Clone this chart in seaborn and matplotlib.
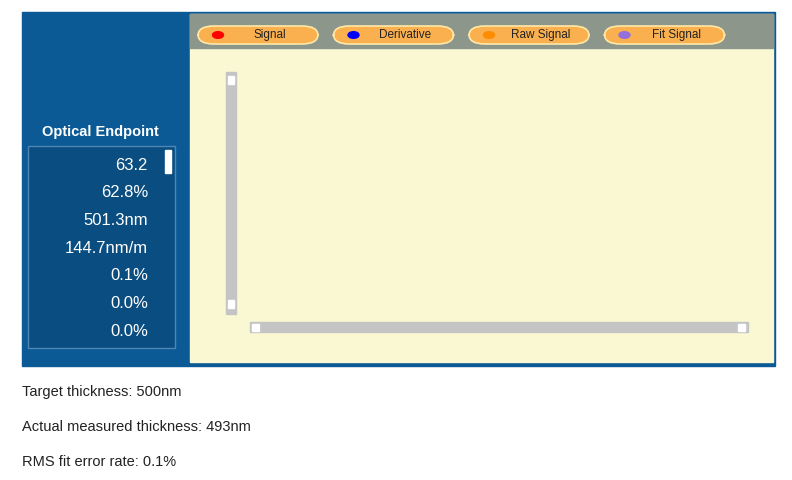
import numpy as np
import pandas as pd
import matplotlib
matplotlib.use('Agg')
import matplotlib.pyplot as plt
import seaborn as sns
from matplotlib.patches import Rectangle, FancyBboxPatch

# readings (time in seconds)
raw_t = [1, 2, 5, 10, 15, 20, 25, 30, 35, 40, 45, 50, 55, 60, 65, 70, 75, 80, 85, 90,
         95, 100, 105, 110, 115, 120, 125, 130, 135, 140, 145, 150, 155, 160, 165, 170,
         175, 180, 185, 190, 195, 200, 205, 209]
raw_v = [55.0, 60.5, 61.0, 61.8, 62.8, 63.2, 63.1, 62.2, 60.8, 59.8, 60.4, 62.0, 63.0, 62.8,
         62.4, 61.5, 60.9, 60.4, 60.0, 60.3, 62.0, 63.4, 63.2, 62.0, 60.6, 59.8, 60.5, 62.2,
         63.4, 63.3, 62.4, 61.5, 60.7, 60.2, 60.3, 61.2, 62.6, 63.6, 63.6, 62.6, 61.0, 60.1,
         61.0, 62.2]
fit_t = [5, 5, 10, 15, 20, 25, 30, 35, 40, 45, 50, 55, 60, 65, 70, 72, 72] + raw_t[16:]
fit_v = [0, 47.0, 49.5, 52.0, 53.0, 51.5, 47.5, 44.6, 46.0, 50.5, 53.0, 52.5, 50.0, 47.5,
         45.8, 45.5, 61.0] + raw_v[16:]
base_t = [5, 207]
base_v = [0, 0]
active_t = [1, 4]
inactive_t = 207
legend_names = ['Signal', 'Derivative', 'Raw Signal', 'Fit Signal']
legend_colors = ['#ff0000', '#0000ff', '#ff8c00', '#9370db']
endpoint_values = ['63.2', '62.8%', '501.3nm', '144.7nm/m', '0.1%', '0.0%', '0.0%']
x_ticks = [0, 50, 100, 150, 200, 250]
x_labels = ['0:00', '0:50', '1:40', '2:30', '3:20', '4:10']
notes = ['Target thickness: 500nm', 'Actual measured thickness: 493nm', 'RMS fit error rate: 0.1%']

W, H = 792, 480
sns.set_style('white')
plt.rcParams['font.family'] = ['Liberation Sans', 'DejaVu Sans']
fig = plt.figure(figsize=(W / 100, H / 100), dpi=100)


def rect(x0, y0, x1, y1, **kw):
    fig.patches.append(Rectangle((x0 / W, 1 - y1 / H), (x1 - x0) / W, (y1 - y0) / H,
                                 transform=fig.transFigure, **kw))


def txt(x, y, s, **kw):
    fig.text(x / W, 1 - y / H, s, **kw)


# outer panel
rect(22, 12, 775, 366, color='#0b5a95', zorder=0)
rect(190, 14, 773, 362, color='#f9f8d2', zorder=0.1)
rect(190, 14, 773, 48, color='#8c968a', zorder=0.2)
txt(100, 132, 'Optical Endpoint', color='white', fontsize=10.5, fontweight='bold', ha='center', va='center')
rect(28, 146, 175, 348, facecolor='#0a4d80', edgecolor='#4f86b5', lw=1, zorder=0.2)
rect(165, 150, 171, 173, color='white', zorder=0.3)
for i, v in enumerate(endpoint_values):
    txt(148, 165 + i * 27.7, v, color='white', fontsize=12, ha='right', va='center')

# legend buttons
for i, (name, c) in enumerate(zip(legend_names, legend_colors)):
    x0 = 198 + i * 135.5
    fig.patches.append(FancyBboxPatch((x0 / W, 1 - 44 / H), 120 / W, 18 / H,
                                      boxstyle='round,pad=0,rounding_size=0.02',
                                      transform=fig.transFigure, facecolor='#fbb050',
                                      edgecolor='#ffe9a8', lw=1.2, zorder=0.3))
    fig.patches.append(plt.Circle(((x0 + 20) / W, 1 - 35 / H), 5.5 / W, color=c,
                                  transform=fig.transFigure, zorder=0.4))
    txt(x0 + 72, 35, name, fontsize=8.5, ha='center', va='center', color='#222222')

# scrollbars
rect(226, 72, 236, 314, color='#c4c4c4', zorder=0.3)
rect(228, 76, 234, 84, color='white', zorder=0.4)
rect(228, 300, 234, 308, color='white', zorder=0.4)
rect(250, 322, 748, 332, color='#c4c4c4', zorder=0.3)
rect(252, 324, 259, 331, color='white', zorder=0.4)
rect(738, 324, 745, 331, color='white', zorder=0.4)

ax = fig.add_axes([238 / W, 1 - 320 / H, (757 - 238) / W, (320 - 65) / H])
ax.set_facecolor('none')
raw = pd.DataFrame({'t': raw_t, 'v': raw_v})
fit = pd.DataFrame({'t': fit_t, 'v': fit_v})
sns.lineplot(data=raw, x='t', y='v', ax=ax, color='#f07a20', lw=1.6, sort=False)
sns.lineplot(data=fit, x='t', y='v', ax=ax, color='#a898d8', lw=1.4, sort=False)
ax.plot(base_t, base_v, color='#9a90e0', lw=1.4)
for t in active_t:
    ax.axvline(t, color='#ffd700', lw=1.6)
ax.axvline(inactive_t, color='#ffd700', lw=1.6)
ax.text(active_t[1] + 0.5, 68, 'Active', rotation=-90, color='green', fontsize=8, va='top', ha='left')
ax.text(inactive_t, 68, 'Inactive', rotation=-90, color='green', fontsize=8, va='top', ha='center')

ax.set_xlim(0, 250)
ax.set_ylim(0, 70)
ax.set_yticks(range(0, 71, 10))
ax.set_xticks(x_ticks)
ax.set_xticklabels(x_labels)
ax.grid(True, color='#e2e2e2', lw=0.8)
ax.set_xlabel('')
ax.set_ylabel('')
for s in ['top', 'right']:
    ax.spines[s].set_visible(False)
ax.spines['left'].set_position(('outward', 13))
ax.spines['bottom'].set_position(('outward', 14))
ax.spines['left'].set_color('#777777')
ax.spines['bottom'].set_color('#777777')
ax.tick_params(axis='both', length=5, color='#777777', labelsize=8, left=True, bottom=True)

for i, n in enumerate(notes):
    txt(22, 392 + i * 35, n, fontsize=10.5, va='center', color='#222222')

fig.savefig('out.png', dpi=100)
